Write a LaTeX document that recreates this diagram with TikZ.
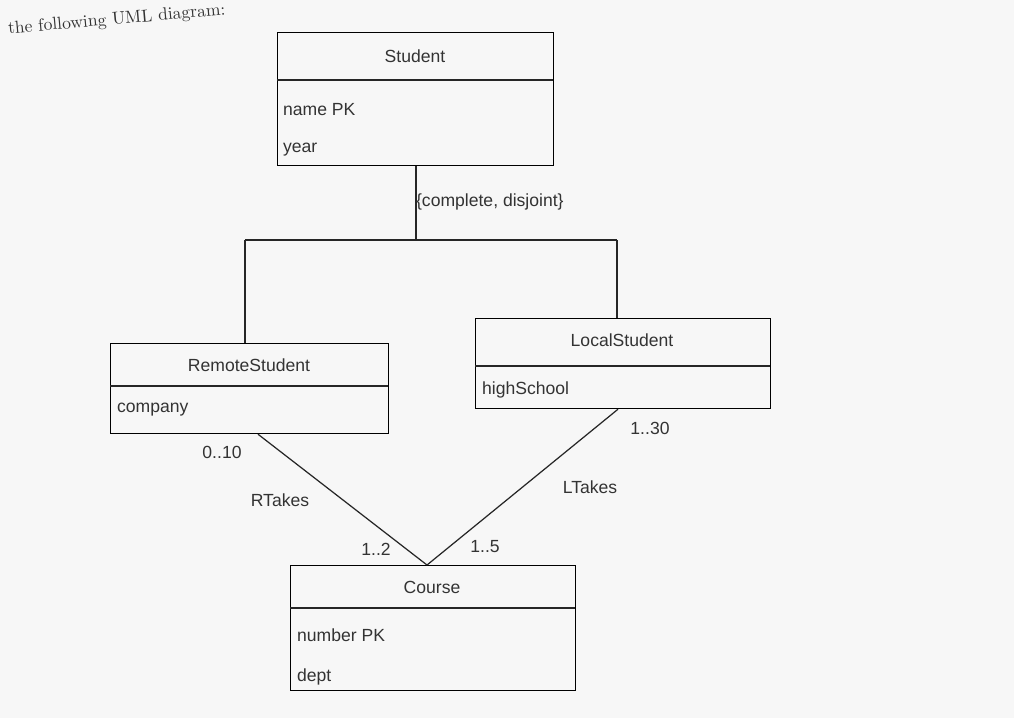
\documentclass[tikz,border=0pt]{standalone}
\usepackage{fontspec}
\setsansfont{Liberation Sans}
\begin{document}
\begin{tikzpicture}[x={(0.02cm,0)},y={(0,-0.02cm)},
  cls/.style={draw,line width=0.7pt,anchor=north west,inner sep=0pt},
  lbl/.style={font=\sffamily\fontsize{10}{12}\selectfont,text=black!80,anchor=west,inner sep=1pt},
  ttl/.style={font=\sffamily\fontsize{10}{12}\selectfont,text=black!80,inner sep=1pt},
  ln/.style={line width=0.7pt,black!85}]
\fill[gray!6] (0,0) rectangle (1014,718);
\useasboundingbox (0,0) rectangle (1014,718);
\node[font=\fontsize{10}{12}\selectfont,anchor=west,rotate=5,text=black!80] (intro) at (2,30) {the following UML diagram:};
% Student
\node[cls,minimum width=5.52cm,minimum height=2.66cm] (st) at (277,32) {};
\draw[ln] (277,80) -- (553,80);
\node[ttl] (stt) at (415,56) {Student};
\node[lbl] (sa1) at (281,110) {name PK};
\node[lbl] (sa2) at (281,150) {year};
% RemoteStudent
\node[cls,minimum width=5.56cm,minimum height=1.8cm] (rs) at (110,343) {};
\draw[ln] (110,386) -- (388,386);
\node[ttl] (rst) at (249,365) {RemoteStudent};
\node[lbl] (ra1) at (115,410) {company};
% LocalStudent
\node[cls,minimum width=5.9cm,minimum height=1.8cm] (ls) at (475,318) {};
\draw[ln] (475,366) -- (770,366);
\node[ttl] (lst) at (622,340) {LocalStudent};
\node[lbl] (la1) at (480,390) {highSchool};
% Course
\node[cls,minimum width=5.7cm,minimum height=2.5cm] (co) at (290,565) {};
\draw[ln] (290,608) -- (575,608);
\node[ttl] (cot) at (432,587) {Course};
\node[lbl] (ca1) at (295,635) {number PK};
\node[lbl] (ca2) at (295,677) {dept};
% generalization
\coordinate (g0) at (416,240);
\coordinate (gl) at (245,240);
\coordinate (gr) at (617,240);
\draw[ln] (st.south -| g0) -- (g0);
\draw[ln] (gl) -- (gr);
\draw[ln] (gl) -- (gl |- rs.north);
\draw[ln] (gr) -- (gr |- ls.north);
\node[ttl,anchor=west] (gc) at (414,202) {\{complete, disjoint\}};
% associations
\coordinate (cm) at (427,565);
\draw[ln] (rs.south -| 258,0) -- (cm);
\draw[ln] (ls.south -| 618,0) -- (cm);
\node[ttl] (r1) at (222,452) {0..10};
\node[ttl] (r2) at (280,500) {RTakes};
\node[ttl] (r3) at (376,549) {1..2};
\node[ttl] (l3) at (485,547) {1..5};
\node[ttl] (l2) at (590,487) {LTakes};
\node[ttl] (l1) at (650,428) {1..30};
\end{tikzpicture}
\end{document}
